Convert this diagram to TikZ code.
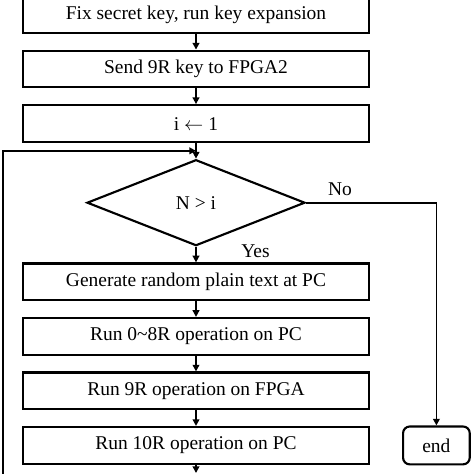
\documentclass[tikz,border=0pt]{standalone}
\usepackage{fontspec}
\setmainfont{Liberation Serif}
\usepackage{tikz}
\usetikzlibrary{positioning,arrows.meta,calc,shapes.geometric}

\begin{document}
\begin{tikzpicture}[
  x=0.75pt, y=-0.75pt,
  node distance=11.7pt and 24pt,
  stepbox/.style={rectangle, draw=black, line width=1.6pt,
    minimum width=259.4pt, minimum height=27.6pt, inner sep=0pt,
    align=center, font=\fontsize{14.6}{17}\selectfont},
  decide/.style={diamond, draw=black, line width=1.6pt, aspect=2.5,
    minimum width=163.5pt, minimum height=64.5pt, inner sep=0pt,
    font=\fontsize{14.6}{17}\selectfont},
  endbox/.style={rectangle, rounded corners=5pt, draw=black,
    line width=1.6pt, minimum width=50pt, minimum height=28.4pt,
    inner sep=0pt, font=\fontsize{14.6}{17}\selectfont},
  lbl/.style={font=\fontsize{14.6}{17}\selectfont},
  arr/.style={-{Triangle[length=5pt, width=5pt]}, line width=1.3pt},
]
\path[use as bounding box] (0,0) rectangle (474,474);
\clip (0,0) rectangle (474,474);

\node[stepbox] (fixkey) at (196,14.5) {Fix secret key, run key expansion};
\node[stepbox, below=of fixkey] (sendkey) {Send 9R key to FPGA2};
\node[stepbox, below=of sendkey] (idxset) {i $\leftarrow$ 1};
\node[decide, below=of idxset] (check) {N > i};
\node[stepbox, below=of check] (genpt) {Generate random plain text at PC};
\node[stepbox, below=of genpt] (runpc) {Run 0\textasciitilde 8R operation on PC};
\node[stepbox, below=of runpc] (runfpga) {Run 9R operation on FPGA};
\node[stepbox, below=of runfpga] (lastrun) {Run 10R operation on PC};
\node[endbox, right=of lastrun] (endnode) {end};

% loop back and cut-off ends
\coordinate (loopin) at ($(idxset.south)!0.5!(check.north)$);
\coordinate (nextstep) at (196,473);
\coordinate (loopfoot) at (3,490);

\draw[arr] (fixkey)  -- (sendkey);
\draw[arr] (sendkey) -- (idxset);
\draw[arr] (idxset)  -- (check);
\draw[arr] (check) -- node[lbl, pos=0.3, right=30pt] {Yes} (genpt);
\draw[arr] (genpt)   -- (runpc);
\draw[arr] (runpc)   -- (runfpga);
\draw[arr] (runfpga) -- (lastrun);
\draw[arr] (lastrun) -- (nextstep);
\draw[arr] (check.east) -| node[lbl, pos=0.13, above, yshift=1pt] {No} (endnode.north);
\draw[arr] (loopfoot) |- (loopin);
\end{tikzpicture}
\end{document}
